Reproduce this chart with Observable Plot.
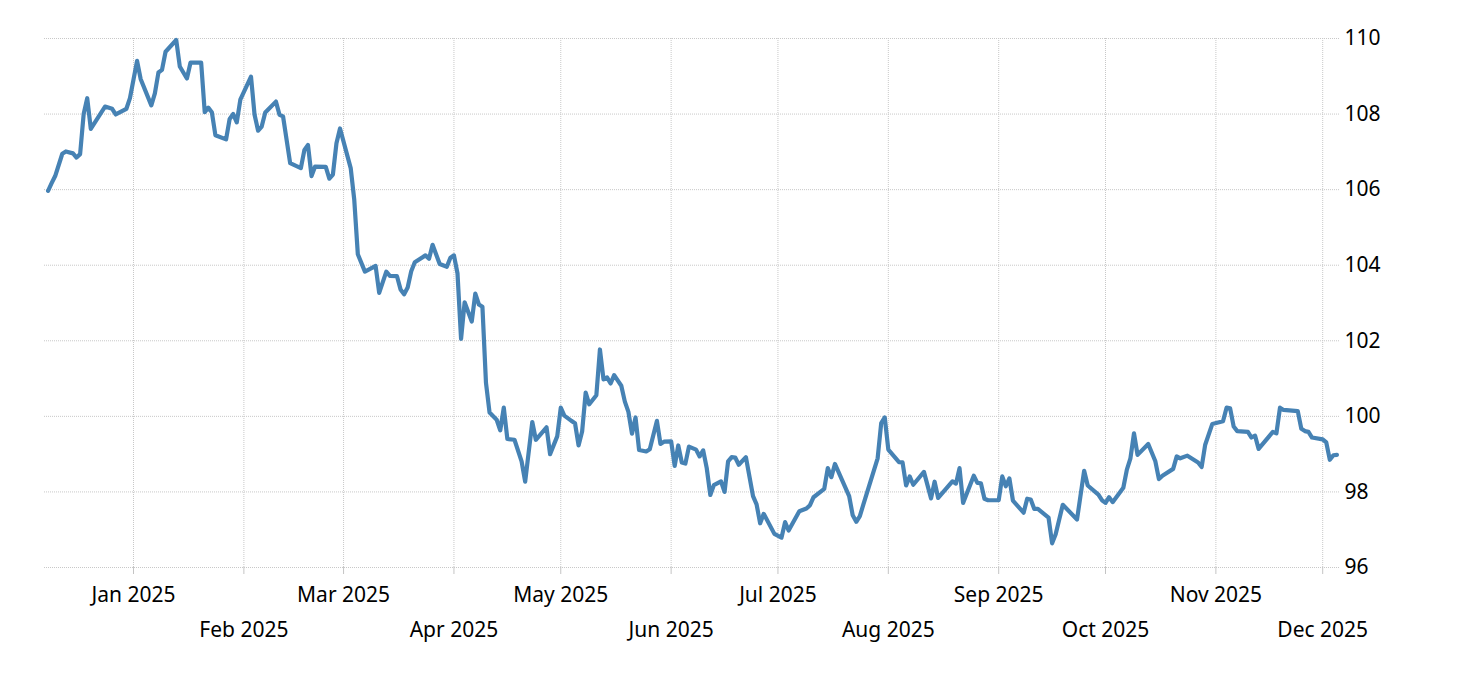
<!DOCTYPE html>
<html>
<head>
<meta charset="utf-8">
<script src="https://cdn.jsdelivr.net/npm/d3@7"></script>
<script src="https://cdn.jsdelivr.net/npm/@observablehq/plot@0.6"></script>
<style>
html,body{margin:0;padding:0;background:#fff;}
svg{display:block;}
</style>
</head>
<body>
<div id="chart"></div>
<script>
// Days since 2025-01-01
const dayOffsets = [-24,-23,-22,-20,-19,-17,-16,-15,-14,-13,-12,-8,-6,-5,-2,-1,1,2,5,6,7,8,9,12,13,15,16,19,20,21,22,23,26,27,28,29,30,33,34,35,36,37,40,41,42,44,47,48,49,50,51,54,55,56,57,58,61,62,63,65,68,69,71,72,74,75,76,77,78,79,82,83,84,86,88,89,90,91,92,93,95,96,97,98,99,100,102,103,104,105,107,109,110,112,113,116,117,119,120,121,123,124,125,126,127,128,130,131,132,133,134,135,137,138,139,140,141,142,144,145,147,148,149,151,152,153,154,155,156,158,159,160,161,162,163,165,166,167,168,169,170,172,174,175,176,177,180,182,183,184,187,189,190,191,194,195,196,197,201,202,203,204,205,209,210,211,212,215,216,217,218,219,222,224,225,226,230,231,232,233,236,237,238,239,240,243,244,245,246,247,250,251,252,253,254,257,258,259,261,265,267,268,271,272,273,274,275,278,279,280,281,282,285,287,288,289,292,293,294,296,299,300,301,303,306,307,308,309,310,313,314,315,316,320,321,322,323,327,328,329,330,331,334,335,336,337,338];
const indexValues = [105.97,106.17,106.36,106.95,107.01,106.96,106.85,106.94,108.0,108.42,107.61,108.2,108.14,107.99,108.14,108.42,109.41,108.93,108.23,108.55,109.10,109.17,109.65,109.96,109.26,108.94,109.36,109.36,108.05,108.17,108.05,107.44,107.33,107.87,108.0,107.78,108.38,108.99,107.98,107.56,107.67,108.04,108.33,107.98,107.94,106.70,106.57,107.05,107.18,106.36,106.61,106.60,106.29,106.40,107.23,107.62,106.57,105.73,104.29,103.83,103.98,103.27,103.83,103.72,103.71,103.36,103.23,103.41,103.84,104.08,104.26,104.17,104.54,104.03,103.96,104.20,104.26,103.78,102.05,103.02,102.51,103.25,102.96,102.90,100.88,100.10,99.91,99.63,100.23,99.40,99.38,98.81,98.27,99.85,99.38,99.71,99.0,99.47,100.23,100.02,99.88,99.82,99.23,99.6,100.63,100.32,100.56,101.77,100.98,101.03,100.87,101.09,100.81,100.39,100.12,99.54,99.97,99.11,99.07,99.13,99.88,99.27,99.33,99.34,98.69,99.23,98.78,98.75,99.2,99.12,98.94,99.10,98.63,97.92,98.18,98.28,98.0,98.81,98.92,98.91,98.72,98.92,97.89,97.67,97.17,97.42,96.89,96.79,97.2,96.98,97.49,97.56,97.65,97.86,98.08,98.63,98.39,98.74,97.89,97.38,97.21,97.36,97.67,98.89,99.82,99.97,99.12,98.79,98.78,98.17,98.41,98.19,98.53,97.83,98.27,97.84,98.28,98.22,98.63,97.71,98.43,98.24,98.23,97.82,97.78,97.78,98.41,98.15,98.36,97.77,97.45,97.82,97.8,97.55,97.55,97.32,96.64,96.88,97.66,97.27,98.56,98.17,97.93,97.78,97.71,97.86,97.73,98.11,98.59,98.89,99.55,98.98,99.27,98.81,98.34,98.43,98.61,98.94,98.89,98.96,98.78,98.66,99.25,99.8,99.87,100.23,100.21,99.73,99.61,99.59,99.44,99.49,99.14,99.59,99.55,100.23,100.17,100.14,99.67,99.61,99.59,99.44,99.39,99.31,98.85,98.97,98.98];
const yTicks = [96,98,100,102,104,106,108,110];
const monthsRowOne = ["2025-01-01","2025-03-01","2025-05-01","2025-07-01","2025-09-01","2025-11-01"];
const monthsRowTwo = ["2025-02-01","2025-04-01","2025-06-01","2025-08-01","2025-10-01","2025-12-01"];

const base = Date.UTC(2025,0,1);
const rows = dayOffsets.map((d,i)=>({date:new Date(base+d*864e5), value:indexValues[i]}));
const rowOne = monthsRowOne.map(s=>new Date(s));
const rowTwo = monthsRowTwo.map(s=>new Date(s));
const fmt = d3.utcFormat("%b %Y");
const FONT = "Noto Sans";
const grid = {stroke:"#c8c8c8", strokeOpacity:1, strokeDasharray:"1,1", strokeWidth:1};

const plot = Plot.plot({
  width:1460, height:680,
  marginTop:38, marginBottom:113, marginLeft:44, marginRight:120,
  style:{fontFamily:FONT, background:"#fff", color:"#000"},
  x:{type:"utc", domain:[new Date("2024-12-07"), new Date("2025-12-06")]},
  y:{domain:[96,110], range:[567,38]},
  marks:[
    Plot.gridY(yTicks, grid),
    Plot.gridX([...rowOne,...rowTwo], grid),
    Plot.axisX(rowOne, {anchor:"bottom", tickSize:7, tickPadding:13, stroke:"#c4c4c4", fontSize:21, fill:"#000", tickFormat:fmt, label:null}),
    Plot.axisX(rowTwo, {anchor:"bottom", tickSize:7, tickPadding:48, stroke:"#c4c4c4", fontSize:21, fill:"#000", tickFormat:fmt, label:null}),
    Plot.axisY(yTicks, {anchor:"right", tickSize:0, tickPadding:4, fontSize:21, fill:"#000", label:null, textAnchor:"start"}),
    Plot.line(rows, {x:"date", y:"value", stroke:"#4682B4", strokeWidth:4.2, curve:"linear"})
  ]
});
document.getElementById("chart").append(plot);
</script>
</body>
</html>
